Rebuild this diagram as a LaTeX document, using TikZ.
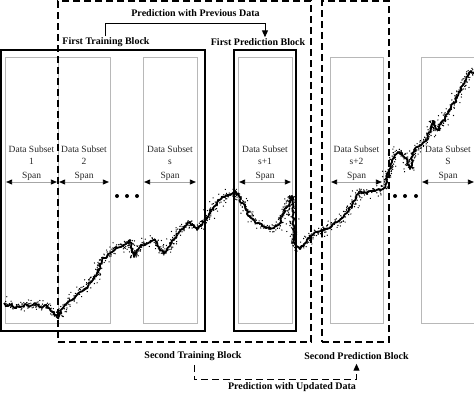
\documentclass[tikz,border=0pt]{standalone}
\usepackage{fontspec}
\setmainfont{Liberation Serif}
\usetikzlibrary{arrows.meta,decorations.pathmorphing,decorations.markings,calc}
\begin{document}
\begin{tikzpicture}[x=1pt,y=-1pt,
  subbox/.style={draw=black!28, line width=0.8pt, minimum width=#1, minimum height=266pt, inner sep=0pt},
  blockbox/.style={draw=black, line width=1.2pt, minimum width=#1, minimum height=281pt, inner sep=0pt},
  dashblock/.style={draw=black, line width=1.2pt, dash pattern=on 7pt off 4pt, minimum width=#1, minimum height=341pt, inner sep=0pt},
  lbl/.style={font=\fontsize{10}{12}\selectfont\bfseries, inner sep=1pt},
  dstext/.style={font=\fontsize{9.5}{12}\selectfont, align=center, inner sep=0pt, text=black!85},
  spanarrow/.style={draw=black!35, line width=0.8pt, {Triangle[color=black,length=6pt,width=5pt]}-{Triangle[color=black,length=6pt,width=5pt]}},
  conn/.style={line width=1pt, -{Triangle[length=7pt,width=6pt]}},
  dashconn/.style={line width=1pt, dash pattern=on 7pt off 4pt, -{Triangle[length=7pt,width=6pt]}},
  ellip/.style={fill=black}
]
\useasboundingbox (0,0) rectangle (474,392);
\pgfmathsetseed{17}

% gray data subset boxes
\node[subbox=53pt] (b1) at (31.5,190) {};
\node[subbox=52pt] (b2) at (84,190) {};
\node[subbox=54pt] (bs) at (170,190) {};
\node[subbox=54pt] (bs1) at (265,190) {};
\node[subbox=53pt] (bs2) at (356.5,190) {};
\node[subbox=54pt] (bS) at (448,190) {};

% data curve
\path[preaction={draw, line width=1.8pt, line join=round, decorate, decoration={random steps, segment length=1.8pt, amplitude=1.5pt}},
      postaction={decorate, decoration={markings, mark=between positions 0 and 1 step 0.9pt with {\fill ({rand*1pt},{rand*3.5pt}) circle (0.75pt);}}},
      postaction={decorate, decoration={markings, mark=between positions 0 and 1 step 3pt with {\fill ({rand*2pt},{rand*7pt}) circle (0.7pt);}}}]
 plot coordinates {(4,303) (8,306) (12,304) (16,308) (20,307) (25,304) (30,306) (35,303) (40,307) (45,305) (50,309) (54,312) (58,318) (61,312) (65,305) (68,302) (72,300) (76,296) (80,292) (84,290) (88,286) (92,281) (96,276) (100,266) (104,258) (108,254) (112,252) (117,248) (122,246) (126,244) (130,240) (132,250) (134,257) (137,250) (141,246) (146,244) (150,242) (155,240) (159,247) (163,253) (167,249) (171,244) (175,238) (179,232) (183,229) (187,225) (190,222) (194,227) (197,230) (201,226) (205,221) (209,214) (213,208) (217,203) (221,199) (225,197) (229,195) (233,193) (236,192) (239,196) (242,203) (246,210) (250,216) (254,220) (258,223) (262,226) (266,228) (270,229) (274,228) (278,225) (281,219) (284,213) (287,207) (290,201) (292,196) (294,240) (296,246) (300,249) (304,244) (308,238) (313,235) (318,232) (322,230) (327,229) (332,226) (337,222) (341,219) (345,214) (349,209) (353,203) (356,198) (359,192) (363,193) (367,194) (371,191) (375,191) (379,189) (383,189) (386,184) (389,170) (392,160) (395,155) (398,152) (402,153) (405,158) (408,165) (410,169) (412,160) (414,150) (417,147) (420,145) (424,142) (428,136) (431,128) (433,121) (435,126) (438,130) (441,124) (445,118) (448,113) (451,108) (454,103) (457,98) (460,92) (463,85) (466,80) (469,74) (471,71) (474,73)};

% solid blocks
\node[blockbox=204pt] (ftb) at (103,190.5) {};
\node[blockbox=62pt] (fpb) at (265,190.5) {};
% dashed blocks
\node[dashblock=253pt] (stb) at (184.5,171.5) {};
\node[dashblock=67pt] (spb) at (355.5,171.5) {};

% subset texts
\node[dstext] (t1) at (31.5,155) {Data Subset\\1};
\node[dstext] (t2) at (84,155) {Data Subset\\2};
\node[dstext] (ts) at (170,155) {Data Subset\\s};
\node[dstext] (ts1) at (265,155) {Data Subset\\s+1};
\node[dstext] (ts2) at (356.5,155) {Data Subset\\s+2};
\node[dstext] (tS) at (448,155) {Data Subset\\S};
\foreach \b in {b1,b2,bs,bs1,bs2,bS}{
  \node[dstext] (sp\b) at ($(\b.center)+(0,-14)$) {Span};
  \draw[spanarrow] ($(\b.west)+(1.5,-8)$) -- ($(\b.east)+(-1.5,-8)$);
}

% ellipses
\foreach \x in {117,127,137,395,405,416}{\fill[ellip] (\x,196) circle (2pt);}

% labels
\node[lbl] (lblPP) at (195.5,13) {Prediction with Previous Data};
\node[lbl] (lblFT) at (106,42) {First Training Block};
\node[lbl] (lblFP) at (258,42) {First Prediction Block};
\node[lbl] (lblST) at (193,356) {Second Training Block};
\node[lbl] (lblSP) at (356.5,356) {Second Prediction Block};
\node[lbl] (lblPU) at (292,387) {Prediction with Updated Data};

% connectors
\draw[conn] ([xshift=-1pt]lblFT.north) -- ++(0,-13) -| ([xshift=7pt]lblFP.north);
\draw[dashconn] ([xshift=1pt,yshift=-3pt]lblST.south) -- ++(0,15) -| ([yshift=-3pt]lblSP.south);
\end{tikzpicture}
\end{document}
